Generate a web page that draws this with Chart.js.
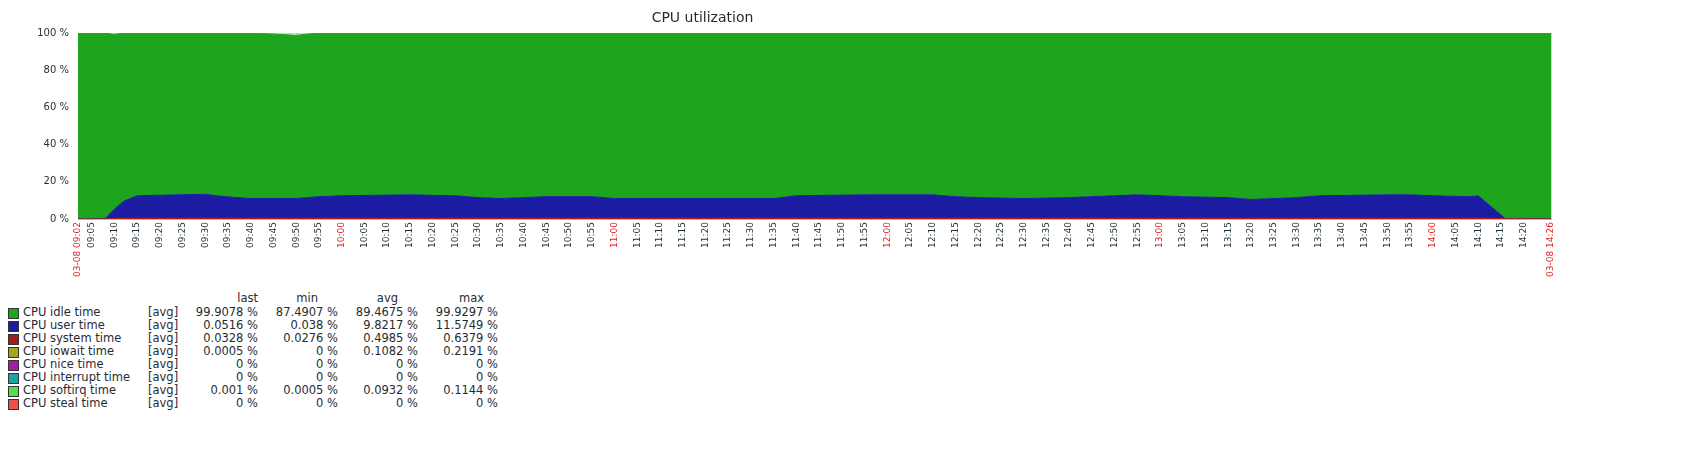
<!DOCTYPE html>
<html>
<head>
<meta charset="utf-8">
<script src="https://cdn.jsdelivr.net/npm/chart.js@4"></script>
<style>
  body { margin: 0; background: #fff; font-family: 'DejaVu Sans', sans-serif; color: #1f2c33; }
  #wrap { position: relative; width: 1687px; height: 449px; }
  #title { position: absolute; top: 9px; left: 0; width: 1405px; text-align: center; font-size: 14px; }
  .lg { position: absolute; font-size: 11.5px; white-space: nowrap; line-height: 13px; }
  .sq { position: absolute; width: 9px; height: 9px; border: 1px solid #333; }
  .r { text-align: right; }
</style>
</head>
<body>
<div id="wrap">
  <canvas id="c" width="1687" height="290" style="position:absolute;left:0;top:0;width:1687px;height:290px"></canvas>
  <div id="title">CPU utilization</div>
  <div id="legend"></div>
</div>
<script>
'use strict';

// ─── Data ─────────────────────────────────────────────────────────────────────
const times = ['09:02','09:07','09:08','09:10','09:12','09:15','09:24','09:30','09:33','09:36',
  '09:40','09:50','09:55','10:00','10:15','10:25','10:30','10:35','10:40','10:45',
  '10:55','11:00','11:05','11:15','11:35','11:40','11:55','12:10','12:15','12:20',
  '12:30','12:40','12:50','12:55','13:05','13:15','13:20','13:30','13:35','13:50',
  '13:55','14:00','14:08','14:10','14:16','14:26'];
const systemTime = [0,0,0,0.3,0.5,0.5,0.5,0.5,0.5,0.5, 0.5,0.5,0.5,0.5,0.5,0.5,0.5,0.5,0.5,0.5,
  0.5,0.5,0.5,0.5,0.5,0.5,0.5,0.5,0.5,0.5, 0.5,0.5,0.5,0.5,0.5,0.5,0.5,0.5,0.5,0.5,
  0.5,0.5,0.5,0.5,0.1,0.03];
const userTime = [0,0,0.3,5,9,12,12.5,12.8,11.8,11.2, 10.5,10.5,11.5,12,12.5,12,11,10.5,11,11.5,
  11.5,10.5,10.5,10.5,10.5,12,12.5,12.5,11.5,11, 10.5,11,12,12.5,11.5,11,10,11,12,12.5,
  12.5,12,11.5,12,0,0];
const idleTime = [100,100,99.7,93.9,90.5,87.5,87,86.7,87.7,88.3, 89,87.8,88,87.5,87,87.5,88.5,89,88.5,88,
  88,89,89,89,89,87.5,87,87,88,88.5, 89,88.5,87.5,87,88,88.5,89.5,88.5,87.5,87,
  87,87.5,88,87.5,99.9,99.97];
const yTicks = [0, 20, 40, 60, 80, 100];

const legendRows = [
  ['CPU idle time',      '#1ea51e', '99.9078 %', '87.4907 %', '89.4675 %', '99.9297 %'],
  ['CPU user time',      '#1c1ca3', '0.0516 %',  '0.038 %',   '9.8217 %',  '11.5749 %'],
  ['CPU system time',    '#a31c1c', '0.0328 %',  '0.0276 %',  '0.4985 %',  '0.6379 %'],
  ['CPU iowait time',    '#a3a31c', '0.0005 %',  '0 %',       '0.1082 %',  '0.2191 %'],
  ['CPU nice time',      '#a31ca3', '0 %',       '0 %',       '0 %',       '0 %'],
  ['CPU interrupt time', '#1ca3a3', '0 %',       '0 %',       '0 %',       '0 %'],
  ['CPU softirq time',   '#52e052', '0.001 %',   '0.0005 %',  '0.0932 %',  '0.1144 %'],
  ['CPU steal time',     '#f05050', '0 %',       '0 %',       '0 %',       '0 %'],
];

// ─── Helpers ──────────────────────────────────────────────────────────────────
const toMin = t => { const [h, m] = t.split(':').map(Number); return h * 60 + m; };
const T0 = toMin('09:02'), T1 = toMin('14:26');
const pts = arr => times.map((t, i) => ({ x: toMin(t) - T0, y: arr[i] }));
const fmt = m => { const v = m + T0; return String(Math.floor(v / 60)).padStart(2, '0') + ':' + String(v % 60).padStart(2, '0'); };

function area(label, arr, color, fill) {
  return { label, data: pts(arr), backgroundColor: color, borderColor: color, borderWidth: 1,
    pointRadius: 0, fill, tension: 0 };
}

new Chart(document.getElementById('c'), {
  type: 'line',
  data: { datasets: [
    area('CPU system time', systemTime, '#a31c1c', 'origin'),
    area('CPU user time', userTime, '#1c1ca3', '-1'),
    area('CPU idle time', idleTime, '#1ea51e', '-1'),
  ]},
  options: {
    responsive: false, animation: false,
    layout: { padding: { top: 33, right: 136, left: 0, bottom: 0 } },
    plugins: { legend: { display: false }, tooltip: { enabled: false } },
    scales: {
      x: {
        type: 'linear', min: 0, max: T1 - T0, z: 1,
        afterBuildTicks: s => {
          const tk = [{ value: 0 }];
          for (let m = 3; m <= T1 - T0 - 6; m += 5) tk.push({ value: m });
          tk.push({ value: T1 - T0 });
          s.ticks = tk;
        },
        afterFit: s => { s.height = 71; },
        grid: { color: 'rgba(0,0,0,0.18)', borderDash: [1, 2], drawTicks: false },
        border: { display: true, color: '#a8b8c0' },
        ticks: {
          autoSkip: false, maxRotation: 90, minRotation: 90, padding: 3,
          font: { family: 'DejaVu Sans', size: 9 },
          color: c => {
            const v = c.tick.value;
            return (v === 0 || v === T1 - T0 || (v + T0) % 60 === 0) ? '#e02020' : '#1f2c33';
          },
          callback: v => (v === 0 || v === T1 - T0) ? '03-08 ' + fmt(v) : fmt(v),
        },
      },
      y: {
        stacked: true, min: 0, max: 100, z: 1,
        afterBuildTicks: s => { s.ticks = yTicks.map(v => ({ value: v })); },
        afterFit: s => { s.width = 78; },
        grid: { color: 'rgba(0,0,0,0.18)', borderDash: [1, 2], drawTicks: false },
        border: { display: true, color: '#a8b8c0' },
        ticks: { padding: 9, font: { family: 'DejaVu Sans', size: 10 }, color: '#1f2c33', callback: v => v + ' %' },
      },
    },
  },
});

// ─── Legend table ─────────────────────────────────────────────────────────────
const lg = document.getElementById('legend');
function put(html, x, y, w, cls) {
  const d = document.createElement('div');
  d.className = 'lg ' + (cls || '');
  d.style.left = x + 'px'; d.style.top = y + 'px';
  if (w) d.style.width = w + 'px';
  d.textContent = html;
  lg.appendChild(d);
}
put('last', 178, 292, 80, 'r'); put('min', 258, 292, 60, 'r');
put('avg', 338, 292, 60, 'r');  put('max', 418, 292, 66, 'r');
legendRows.forEach((r, i) => {
  const y = 306 + i * 13;
  const sq = document.createElement('div');
  sq.className = 'sq'; sq.style.left = '8px'; sq.style.top = (y + 2) + 'px'; sq.style.background = r[1];
  lg.appendChild(sq);
  put(r[0], 23, y); put('[avg]', 148, y);
  put(r[2], 178, y, 80, 'r'); put(r[3], 258, y, 80, 'r');
  put(r[4], 338, y, 80, 'r'); put(r[5], 418, y, 80, 'r');
});
</script>
</body>
</html>
